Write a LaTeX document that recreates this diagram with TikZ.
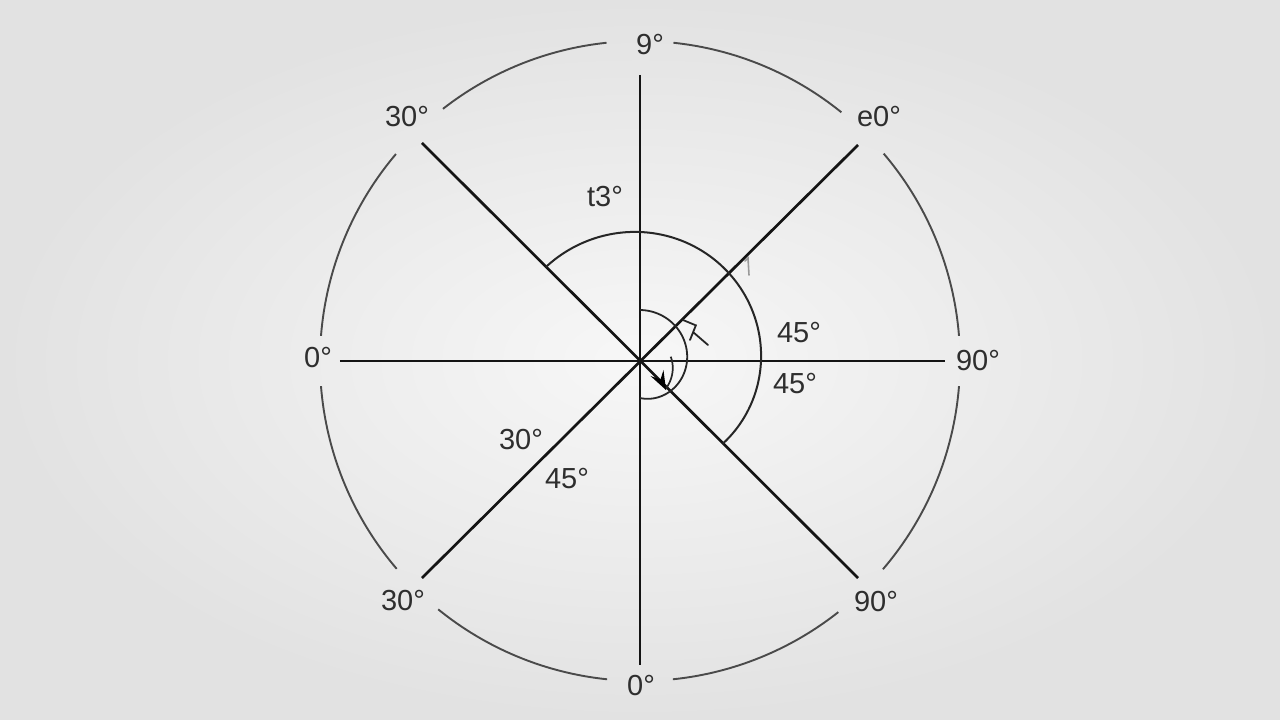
\documentclass[tikz,border=0pt]{standalone}
\usepackage{fontspec}
\setmainfont{Liberation Sans}
\definecolor{bgin}{HTML}{F7F7F7}
\definecolor{bgout}{HTML}{E2E2E2}
\definecolor{ringc}{HTML}{4A4A4A}
\definecolor{txtc}{HTML}{2E2E2E}
\begin{document}
\begin{tikzpicture}[x=1pt,y=1pt,
  ring/.style={draw=ringc,line width=1.9pt},
  axis/.style={draw=black!92,line width=2.7pt},
  arcline/.style={draw=black!85,line width=2pt},
  lbl/.style={text=txtc,font=\fontsize{29}{34}\selectfont,inner sep=0pt}]
% background
\useasboundingbox (-640,-359) rectangle (640,361);
\shade[inner color=bgin,outer color=bgout] (-640,-359) rectangle (640,361);
% outer ring with gaps
\foreach \a/\b in {4.5/40.4,51/84,96/128,139.7/175.5,184.5/220.5,230.9/264.1,275.9/308.3,319.4/355.5}
  \draw[ring] (\a:320) arc[start angle=\a,end angle=\b,radius=320pt];
% axes
\coordinate (C) at (0,0);
\coordinate (vt) at (0,286);
\coordinate (vb) at (0,-304);
\coordinate (hl) at (-300,0);
\coordinate (hr) at (305,0);
\coordinate (d1a) at (-218,218);
\coordinate (d1b) at (218,-217);
\coordinate (d2a) at (218,216);
\coordinate (d2b) at (-218,-217);
\draw[axis] (vt) -- (vb);
\draw[axis] (hl) -- (hr);
\draw[axis] (d1a) -- (d1b);
\draw[axis] (d2a) -- (d2b);
% big arc
\draw[arcline] plot[domain=135:-45,samples=80,smooth] ({(125+8*(\x-45)/90)*cos(\x)},{(125+8*(\x-45)/90)*sin(\x)});
% small arc
\draw[arcline,line width=1.8pt] plot[domain=90:-90,samples=60,smooth] ({(47+7*\x/90-3*(\x/90)^2)*cos(\x)},{(47+7*\x/90-3*(\x/90)^2)*sin(\x)});
% inner bracket arc
\draw[arcline,line width=1.7pt] plot[domain=8:-48,samples=30,smooth] ({(31+7*(8-\x)/56)*cos(\x)},{(31+7*(8-\x)/56)*sin(\x)});
% arrowhead
\fill[black] (26,-29) -- (23.5,-9) -- (20.5,-18.5) -- (10.5,-15) -- cycle;
% odd mark
\draw[black!85,line width=1.8pt,line cap=round] (43,41) -- (55,36) (56,36) -- (50,21) (53,29) -- (68,16);
% tick mark
\draw[black!40,line width=1.6pt,line cap=round] (105,100) -- (108,103) -- (109,86);
% labels
\node[lbl] (l1) at (10,316) {9°};
\node[lbl] (l2) at (-233,244) {30°};
\node[lbl] (l3) at (239,244) {e0°};
\node[lbl] (l4) at (-322,3) {0°};
\node[lbl] (l5) at (338,0) {90°};
\node[lbl] (l6) at (-237,-240) {30°};
\node[lbl] (l7) at (1,-325) {0°};
\node[lbl] (l8) at (236,-241) {90°};
\node[lbl] (l9) at (-35,164) {t3°};
\node[lbl] (l10) at (159,28) {45°};
\node[lbl] (l11) at (155,-23) {45°};
\node[lbl] (l12) at (-119,-79) {30°};
\node[lbl] (l13) at (-73,-118) {45°};
\end{tikzpicture}
\end{document}
